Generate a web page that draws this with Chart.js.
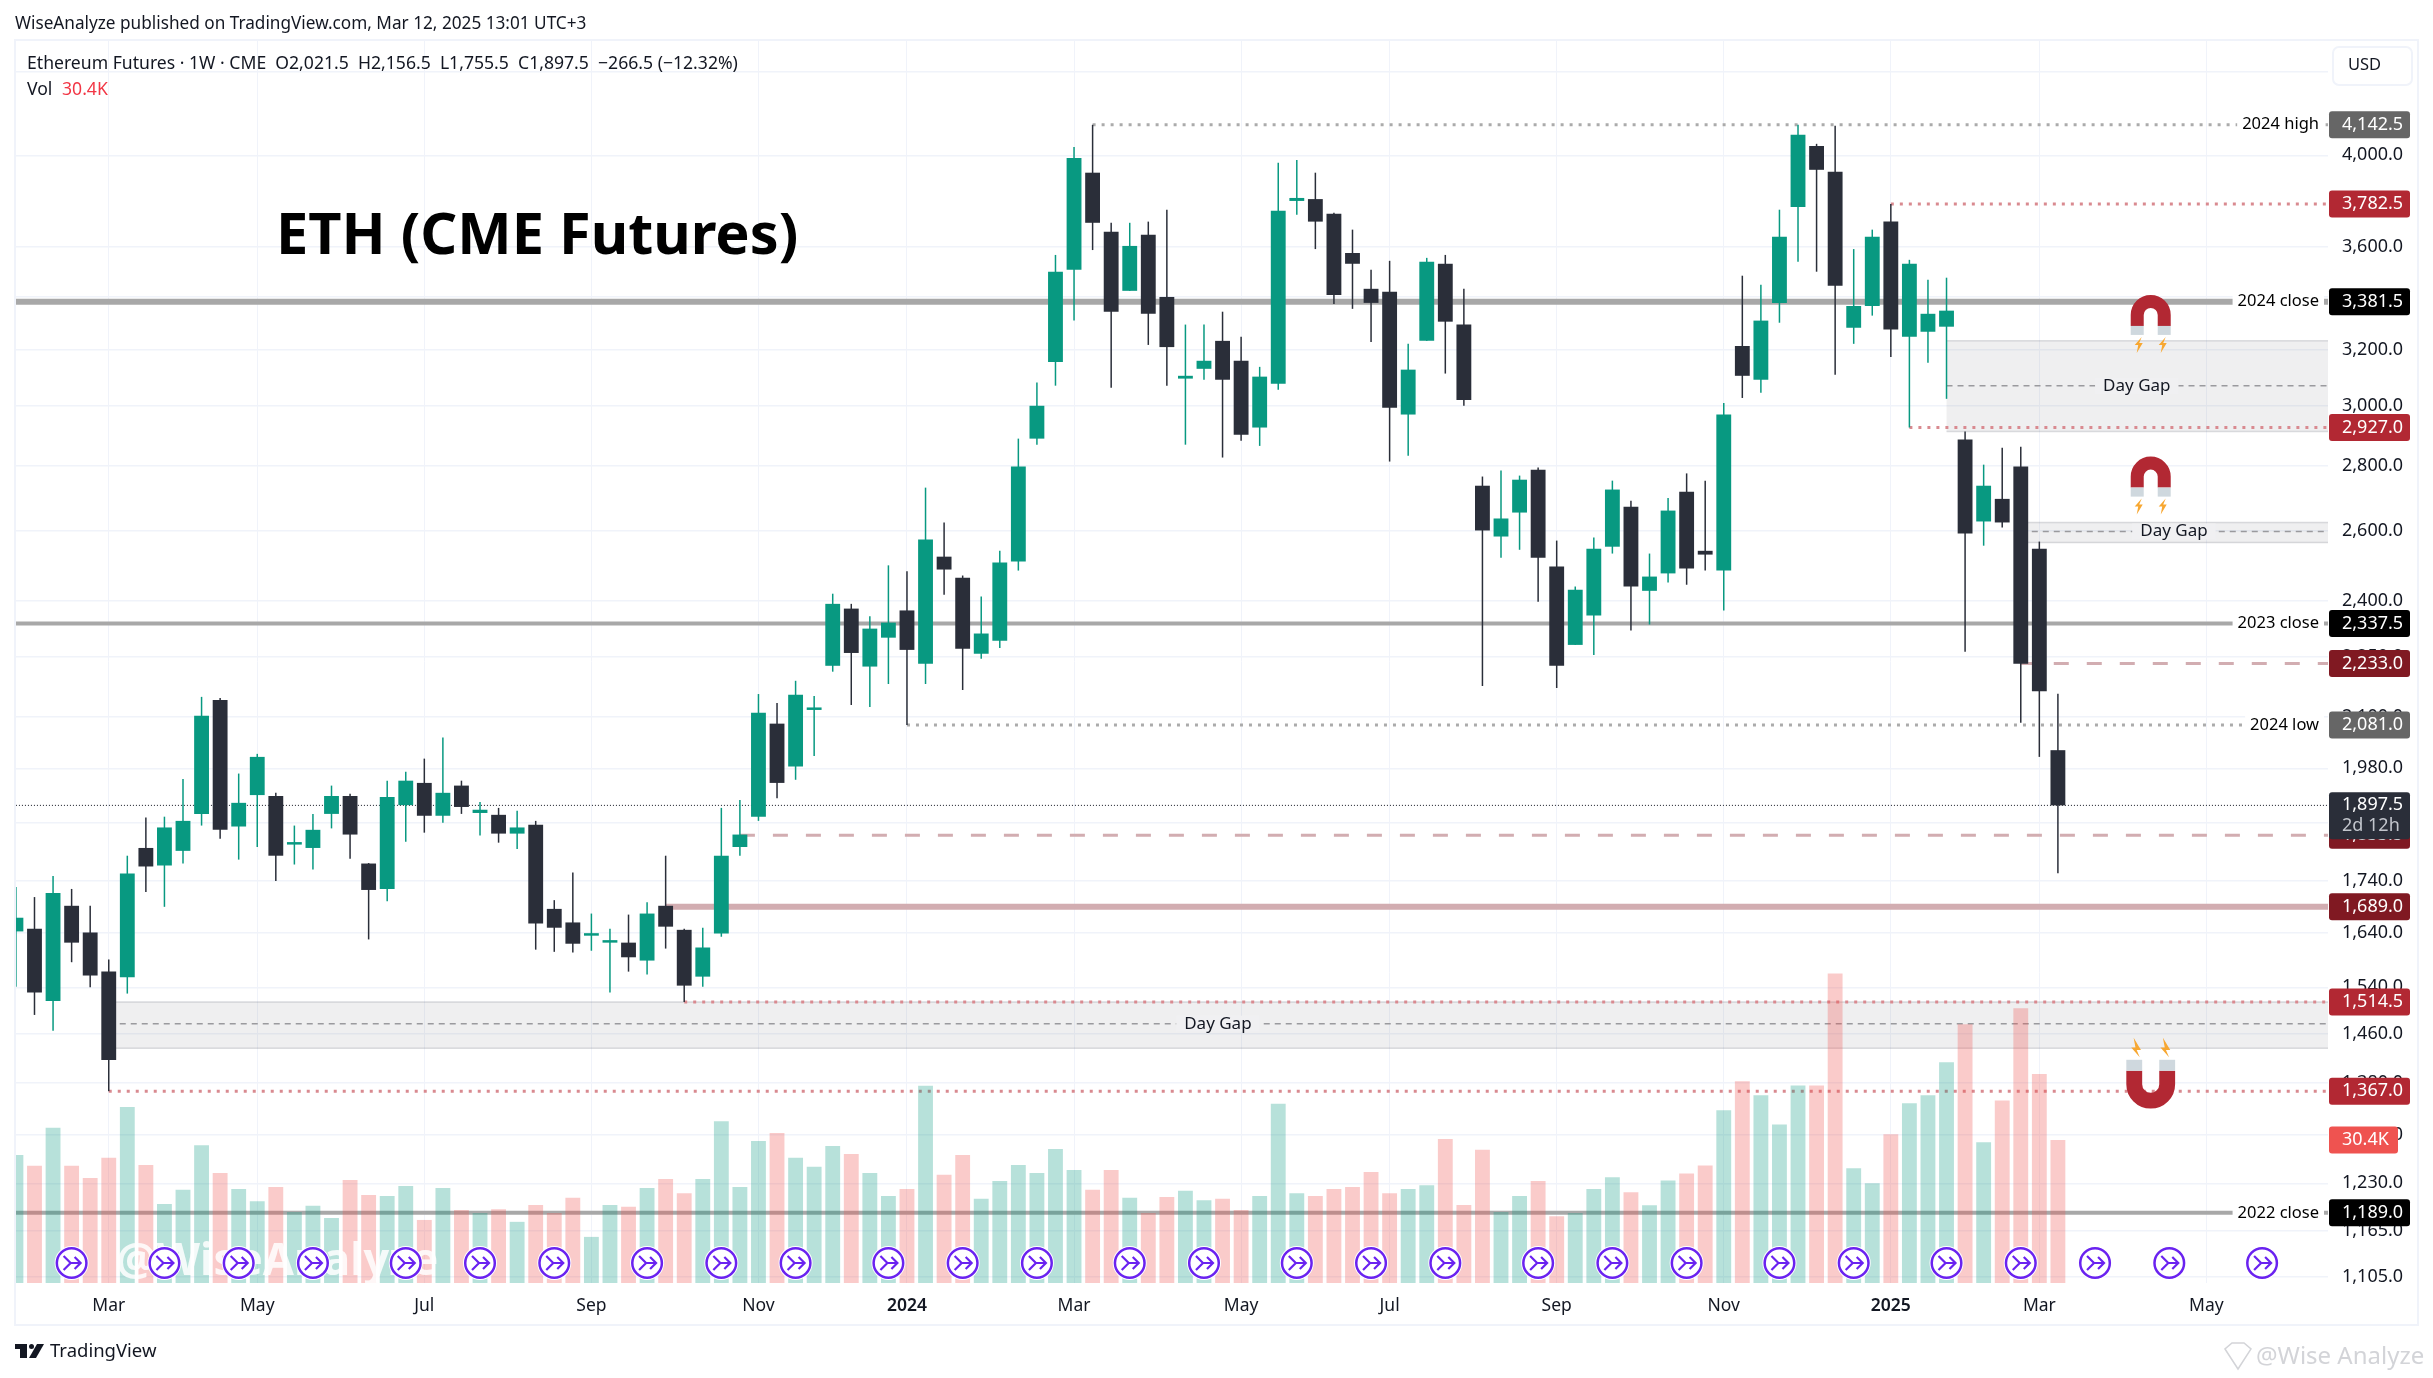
<!DOCTYPE html>
<html>
<head>
<meta charset="utf-8">
<title>ETH (CME Futures)</title>
<script src="https://cdn.jsdelivr.net/npm/chart.js@4"></script>
<style>
  html, body { margin: 0; padding: 0; background: #fff; overflow: hidden; }
  #wrap { position: relative; width: 2433px; height: 1378px; }
  canvas { position: absolute; left: 0; top: 0; }
  .txt { position: absolute; font-family: "Noto Sans", sans-serif; color: #131722; white-space: pre; line-height: 1; }
</style>
</head>
<body>
<div id="wrap">
  <canvas id="ethChart" width="2433" height="1378"></canvas>
  <div class="txt" style="left:15px;top:14px;font-size:17.2px">WiseAnalyze published on TradingView.com, Mar 12, 2025 13:01 UTC+3</div>
  <div class="txt" style="left:50px;top:1341px;font-size:18.5px">TradingView</div>
  <div class="txt" style="left:2256px;top:1343px;font-size:24px;color:#d3d4d8">@Wise Analyze</div>
</div>
<script>
// weekly candles, Jan 30 2023 -> Mar 10 2025
const opens = [1642,1647,1516,1691,1640,1568,1558,1807,1771,1801,1879,2141,1852,1920,1918,1814,1807,1879,1918,1775,1724,1898,1947,1875,1941,1881,1877,1837,1856,1685,1659,1634,1621,1621,1588,1691,1645,1559,1638,1809,1873,2084,1984,2117,2227,2378,2225,2300,2373,2232,2524,2464,2258,2292,2510,2890,3156,3508,3921,3664,3424,3652,3400,3096,3131,3233,3160,2927,3078,3796,3804,3741,3576,3432,3420,2971,3233,3532,3294,2738,2583,2655,2789,2496,2281,2359,2553,2673,2427,2476,2719,2541,2484,3214,3092,3377,3770,4043,3925,3282,3365,3707,3248,3267,3286,2887,2628,2697,2799,2547,2021.5];
const highs = [1728,1708,1750,1724,1691,1590,1791,1871,1873,1956,2149,2146,1968,2013,1925,1854,1879,1941,1923,1776,1952,1972,2002,2051,1952,1905,1892,1886,1864,1702,1757,1676,1647,1674,1698,1791,1647,1649,1892,1909,2156,2134,2189,2151,2419,2391,2357,2499,2482,2732,2625,2470,2411,2541,2890,3082,3568,4038,4142.5,3702,3702,3707,3758,3294,3294,3343,3248,3138,3966,3979,3921,3745,3673,3508,3544,3222,3556,3568,3432,2767,2786,2770,2796,2571,2439,2580,2754,2691,2533,2700,2777,2754,3011,3484,3448,3758,4142.5,4053,4138,3592,3673,3782.5,3548,3468,3476,2914,2805,2860,2863,2568,2156.5];
const lows = [1541,1492,1465,1585,1540,1367,1529,1718,1689,1775,1854,1826,1783,1809,1740,1773,1763,1848,1785,1627,1700,1820,1839,1860,1879,1833,1818,1805,1608,1604,1603,1606,1531,1568,1563,1610,1514.5,1541,1632,1791,1864,1913,1954,2008,2212,2129,2124,2181,2081,2181,2416,2166,2245,2273,2484,2870,3071,3309,3588,3064,3424,3218,3071,2870,3092,2828,2883,2866,3057,3736,3592,3373,3354,3229,2815,2834,3233,3114,3001,2176,2521,2544,2397,2171,2281,2255,2533,2319,2335,2450,2444,2484,2373,3028,3046,3301,3540,3500,3110,3222,3328,3174,2927,3153,3025,2263,2556,2610,2086,2006,1755.5];
const closes = [1668,1531,1716,1621,1561,1417,1755,1769,1850,1864,2103,1845,1903,2006,1791,1816,1845,1918,1835,1722,1916,1952,1875,1925,1894,1888,1837,1850,1657,1649,1619,1636,1623,1594,1676,1651,1543,1612,1791,1835,2110,1947,2154,2120,2391,2260,2324,2340,2268,2574,2487,2271,2311,2507,2799,3001,3500,3988,3702,3343,3605,3335,3210,3106,3160,3092,2903,3103,3753,3809,3707,3408,3532,3377,2994,3128,3540,3305,3021,2601,2637,2757,2521,2227,2430,2547,2726,2439,2467,2661,2490,2530,2971,3106,3309,3643,4095,3934,3444,3365,3643,3275,3532,3335,3347,2592,2738,2625,2232,2163,1897.5];
const volumes = [27.2,24.9,33.0,24.9,22.3,26.6,37.4,25.1,16.8,19.8,29.3,23.4,20.0,17.4,20.4,15.1,16.4,13.8,21.9,18.7,18.5,20.6,13.4,20.2,15.5,14.9,15.7,13.0,16.6,14.9,18.1,9.8,16.6,16.2,20.2,22.1,19.1,22.1,34.4,20.4,30.2,31.9,26.6,24.7,29.1,27.4,23.4,18.5,20.0,41.9,23.0,27.2,17.9,21.7,25.1,23.4,28.5,24.0,19.8,24.0,18.1,14.9,18.3,19.6,17.6,17.9,15.5,18.5,38.1,19.1,18.5,20.0,20.4,23.6,19.1,20.0,20.8,30.6,16.6,28.3,15.1,18.5,21.7,14.2,14.9,20.0,22.5,19.3,16.5,21.8,23.3,25.0,36.7,42.9,39.9,33.7,42.0,42.0,65.8,24.4,21.2,31.6,38.2,39.9,46.9,55.0,29.9,38.8,58.4,44.4,30.4];

const monthTicks = [5,13,22,31,40,48,57,66,74,83,92,101,109,118];
const monthLabels = ['Mar','May','Jul','Sep','Nov','2024','Mar','May','Jul','Sep','Nov','2025','Mar','May'];
const priceTicks = [4400,4000,3600,3400,3200,3000,2800,2600,2400,2250,2100,1980,1860,1740,1640,1540,1460,1380,1300,1230,1165,1105];

// drawn levels: value, first week, note, kind
const levelValues = [4142.5,3782.5,3381.5,2927,2337.5,2233,2081,1897.5,1833.5,1689,1514.5,1367,1189];
const levelStart = [58,101,0,102,0,108,48,0,39,35,36,5,0];
const levelNotes = ['2024 high','','2024 close','','2023 close','','2024 low','','','','','','2022 close'];
const levelKinds = ['hl','red','close','red','close2','rose','hl','last','rose','roseBold','red','red','close2'];

// day gaps: top, bottom, middle, first week
const gapTops = [3233,2625,1514.5];
const gapBottoms = [2914,2565,1436];
const gapMids = [3071,2598,1477];
const gapStart = [104,108,5];
const gapNoteWeek = [114.25,116.25,64.75];

const eventWeeks = [3,8,12,16,21,25,29,34,38,42,47,51,55,60,64,69,73,77,82,86,90,95,99,104,108,112,116,121];
const magnetWeek = [115,115,115];
const magnetPrice = [3408,2831,1340];
const magnetDir = [1,1,-1];

const GREEN = '#089981', DARK = '#2a2e39';
const FONT = '"Noto Sans", sans-serif';
const X_MIN = -0.05, X_MAX = 124.55;

const kindStyle = {
  hl: { color: '#ababab', width: 3, dash: [3, 6], tag: '#666666' },
  red: { color: '#d98a90', width: 3, dash: [3, 6], tag: '#b22833' },
  close: { color: '#a8a8a8', width: 6, dash: [], tag: '#000000' },
  close2: { color: '#a8a8a8', width: 4, dash: [], tag: '#000000' },
  rose: { color: '#d2adb1', width: 3, dash: [15, 18], tag: '#801922' },
  roseBold: { color: '#d2adb1', width: 6, dash: [], tag: '#801922' },
  last: { color: '#131722', width: 1, dash: [1, 2], tag: '#2a2e39' }
};

const fmt = v => v.toLocaleString('en-US', { minimumFractionDigits: 1, maximumFractionDigits: 1 });
const weeks = opens.map((_, i) => i);

const levelSets = levelValues.map((v, i) => {
  const st = kindStyle[levelKinds[i]];
  return {
    type: 'line', order: 9,
    data: [{ x: levelStart[i], y: v }, { x: X_MAX, y: v }],
    borderColor: st.color, borderWidth: st.width, borderDash: st.dash,
    borderCapStyle: 'butt', pointRadius: 0, xAxisID: 'x', yAxisID: 'y'
  };
});

function roundedTag(ctx, x, y, w, h, color) {
  ctx.fillStyle = color;
  ctx.beginPath();
  ctx.roundRect(x, y, w, h, 3);
  ctx.fill();
}

function drawMagnet(ctx, cx, yEdge, dir) {
  ctx.save();
  ctx.translate(cx, yEdge);
  const k = dir < 0 ? 1.22 : 1;
  ctx.scale(k, dir * k);
  ctx.strokeStyle = '#b22833';
  ctx.lineWidth = 13;
  ctx.beginPath();
  ctx.moveTo(-13.5, 31);
  ctx.lineTo(-13.5, 20);
  ctx.arc(0, 20, 13.5, Math.PI, 0);
  ctx.lineTo(13.5, 31);
  ctx.stroke();
  ctx.fillStyle = '#cfd8de';
  ctx.fillRect(-20, 31, 13, 9);
  ctx.fillRect(7, 31, 13, 9);
  ctx.fillStyle = '#f7a731';
  [-12, 12].forEach(b => {
    ctx.beginPath();
    ctx.moveTo(b + 3, 42);
    ctx.lineTo(b - 4, 50);
    ctx.lineTo(b - 0.5, 50);
    ctx.lineTo(b - 2, 58);
    ctx.lineTo(b + 4, 48);
    ctx.lineTo(b + 0.5, 48);
    ctx.closePath();
    ctx.fill();
  });
  ctx.restore();
}

const overlayPlugin = {
  id: 'overlay',
  beforeDatasetsDraw(chart) {
    const { ctx, chartArea: a, scales: { x, y } } = chart;
    ctx.save();
    gapTops.forEach((top, i) => {
      const x0 = x.getPixelForValue(gapStart[i]);
      const yT = y.getPixelForValue(top), yB = y.getPixelForValue(gapBottoms[i]), yM = y.getPixelForValue(gapMids[i]);
      ctx.fillStyle = 'rgba(120,123,134,0.12)';
      ctx.fillRect(x0, yT, a.right - x0, yB - yT);
      ctx.strokeStyle = 'rgba(120,123,134,0.25)';
      ctx.lineWidth = 1.5;
      ctx.beginPath();
      ctx.moveTo(x0, yT); ctx.lineTo(a.right, yT);
      ctx.moveTo(x0, yB); ctx.lineTo(a.right, yB);
      ctx.stroke();
      ctx.strokeStyle = '#9a9a9e';
      ctx.setLineDash([6, 5]);
      ctx.beginPath();
      ctx.moveTo(x0, yM); ctx.lineTo(a.right, yM);
      ctx.stroke();
      ctx.setLineDash([]);
    });
    ctx.restore();
  },
  afterDatasetsDraw(chart) {
    const { ctx, chartArea: a, scales: { x, y, vol } } = chart;
    ctx.save();
    ctx.textBaseline = 'middle';

    // panel border
    ctx.strokeStyle = '#f0f3fa';
    ctx.lineWidth = 2;
    ctx.strokeRect(15, 40, 2403, 1285);

    // title + legend
    ctx.fillStyle = '#000';
    ctx.font = '700 57.7px ' + FONT;
    ctx.fillText('ETH (CME Futures)', 276, 238);
    ctx.fillStyle = '#131722';
    ctx.font = '17.6px ' + FONT;
    ctx.fillText('Ethereum Futures · 1W · CME  O2,021.5  H2,156.5  L1,755.5  C1,897.5  −266.5 (−12.32%)', 27, 64);
    ctx.fillText('Vol', 27, 90);
    ctx.fillStyle = '#f23645';
    ctx.fillText('30.4K', 62, 90);

    // USD button
    ctx.fillStyle = '#fff';
    ctx.strokeStyle = '#f0f3fa';
    ctx.lineWidth = 2;
    ctx.beginPath();
    ctx.roundRect(2333, 47, 79, 38, 6);
    ctx.fill();
    ctx.stroke();
    ctx.fillStyle = '#131722';
    ctx.font = '16.5px ' + FONT;
    ctx.fillText('USD', 2348, 65);

    // day gap notes
    ctx.font = '17px ' + FONT;
    gapTops.forEach((_, i) => {
      const cx = x.getPixelForValue(gapNoteWeek[i]), cy = y.getPixelForValue(gapMids[i]);
      const w = ctx.measureText('Day Gap').width;
      ctx.fillStyle = '#f0f0f2';
      ctx.fillRect(cx - w / 2 - 8, cy - 8, w + 16, 16);
      ctx.fillStyle = '#131722';
      ctx.textAlign = 'center';
      ctx.fillText('Day Gap', cx, cy);
      ctx.textAlign = 'left';
    });

    // white handle on top of the volume bars
    ctx.fillStyle = 'rgba(255,255,255,0.85)';
    ctx.font = '700 45px ' + FONT;
    ctx.fillText('@WiseAnalyze', 116, 1262);

    // event arrows
    ctx.strokeStyle = '#6a22f0';
    eventWeeks.forEach(w => {
      const cx = x.getPixelForValue(w), cy = vol.getPixelForValue(4.25);
      ctx.fillStyle = '#fff';
      ctx.beginPath();
      ctx.arc(cx, cy, 17, 0, Math.PI * 2);
      ctx.fill();
      ctx.lineWidth = 2.5;
      ctx.beginPath();
      ctx.arc(cx, cy, 14.8, 0, Math.PI * 2);
      ctx.stroke();
      ctx.lineWidth = 2.2;
      ctx.beginPath();
      ctx.moveTo(cx - 8, cy - 7); ctx.lineTo(cx - 1, cy); ctx.lineTo(cx - 8, cy + 7);
      ctx.moveTo(cx - 1, cy); ctx.lineTo(cx + 9, cy);
      ctx.moveTo(cx + 3, cy - 6); ctx.lineTo(cx + 9, cy); ctx.lineTo(cx + 3, cy + 6);
      ctx.stroke();
    });

    magnetWeek.forEach((w, i) => {
      drawMagnet(ctx, x.getPixelForValue(w), y.getPixelForValue(magnetPrice[i]), magnetDir[i]);
    });

    // price tags on the axis
    const tagX = a.right + 1, tagW = 81, tagH = 27;
    levelValues.forEach((v, i) => {
      const py = y.getPixelForValue(v), st = kindStyle[levelKinds[i]];
      if (levelNotes[i]) {
        ctx.font = '16.5px ' + FONT;
        const w = ctx.measureText(levelNotes[i]).width;
        ctx.fillStyle = '#fff';
        ctx.fillRect(a.right - w - 14, py - 9, w + 10, 18);
        ctx.fillStyle = '#000';
        ctx.fillText(levelNotes[i], a.right - w - 9, py);
      }
      if (levelKinds[i] === 'last') return;
      roundedTag(ctx, tagX, py - tagH / 2, tagW, tagH, st.tag);
      ctx.fillStyle = '#fff';
      ctx.font = '18px ' + FONT;
      ctx.fillText(fmt(v), a.right + 14, py);
    });

    // current price tag covers the level below it
    const lastY = y.getPixelForValue(closes[closes.length - 1]);
    roundedTag(ctx, tagX, lastY - 13, tagW, 47, DARK);
    ctx.fillStyle = '#fff';
    ctx.font = '18px ' + FONT;
    ctx.fillText(fmt(closes[closes.length - 1]), a.right + 14, lastY);
    ctx.fillStyle = '#c2c5cc';
    ctx.fillText('2d 12h', a.right + 14, lastY + 21);

    // volume tag
    const volY = vol.getPixelForValue(volumes[volumes.length - 1]);
    roundedTag(ctx, tagX, volY - 13.5, 69, 27, '#ef5350');
    ctx.fillStyle = '#fff';
    ctx.fillText(volumes[volumes.length - 1].toFixed(1) + 'K', a.right + 14, volY);

    // TradingView mark in the footer
    ctx.fillStyle = '#131722';
    ctx.fillRect(15, 1344, 12, 5);
    ctx.fillRect(20, 1344, 7, 14);
    ctx.beginPath();
    ctx.arc(31.5, 1346.5, 2.5, 0, Math.PI * 2);
    ctx.fill();
    ctx.beginPath();
    ctx.moveTo(37, 1344); ctx.lineTo(44, 1344); ctx.lineTo(36, 1358); ctx.lineTo(29, 1358);
    ctx.closePath();
    ctx.fill();

    // watermark mark, bottom right
    ctx.strokeStyle = '#d3d4d8';
    ctx.lineWidth = 1.5;
    ctx.beginPath();
    ctx.moveTo(2225, 1349); ctx.lineTo(2238, 1369); ctx.lineTo(2251, 1349); ctx.lineTo(2244, 1343); ctx.lineTo(2232, 1343);
    ctx.closePath();
    ctx.stroke();
    ctx.restore();
  }
};

new Chart(document.getElementById('ethChart'), {
  type: 'bar',
  data: {
    datasets: [
      ...levelSets,
      {
        label: 'Vol', order: 5, yAxisID: 'vol', xAxisID: 'x',
        data: weeks.map(i => ({ x: i, y: volumes[i] })),
        backgroundColor: weeks.map(i => closes[i] >= opens[i] ? 'rgba(8,153,129,0.29)' : 'rgba(239,83,80,0.3)'),
        barPercentage: 1, maxBarThickness: 17.6, grouped: false
      },
      {
        label: 'Wick', order: 3, yAxisID: 'y', xAxisID: 'x',
        data: weeks.map(i => ({ x: i, y: [lows[i], highs[i]] })),
        backgroundColor: weeks.map(i => closes[i] >= opens[i] ? GREEN : DARK),
        barPercentage: 1, maxBarThickness: 1.5, grouped: false
      },
      {
        label: 'Body', order: 2, yAxisID: 'y', xAxisID: 'x',
        data: weeks.map(i => ({ x: i, y: [opens[i], closes[i]] })),
        backgroundColor: weeks.map(i => closes[i] >= opens[i] ? GREEN : DARK),
        barPercentage: 1, maxBarThickness: 15, minBarLength: 2.5, grouped: false
      }
    ]
  },
  plugins: [overlayPlugin],
  options: {
    responsive: false,
    devicePixelRatio: 1,
    animation: false,
    layout: { padding: { left: 15, top: 40, right: 15, bottom: 53 } },
    plugins: { legend: { display: false }, tooltip: { enabled: false } },
    scales: {
      x: {
        type: 'linear', offset: false, min: X_MIN, max: X_MAX,
        afterBuildTicks: s => { s.ticks = monthTicks.map(v => ({ value: v })); },
        afterFit: s => { s.height = 42; },
        grid: { offset: false, color: '#f0f3fa', lineWidth: 1, drawTicks: false },
        border: { display: false },
        ticks: {
          autoSkip: false, maxRotation: 0, padding: 13, color: '#131722',
          font: c => ({ family: FONT, size: 17.5, weight: c.tick && monthLabels[monthTicks.indexOf(c.tick.value)].length === 4 ? '600' : '400' }),
          callback: v => monthLabels[monthTicks.indexOf(v)]
        }
      },
      y: {
        type: 'logarithmic', position: 'right', min: 1097, max: 4565.7,
        afterBuildTicks: s => { s.ticks = priceTicks.map(v => ({ value: v })); },
        afterFit: s => { s.width = 90; },
        grid: { color: '#f0f3fa', lineWidth: 1.5, drawTicks: false },
        border: { display: false },
        ticks: { autoSkip: false, padding: 14, color: '#131722', font: { family: FONT, size: 18 }, callback: v => fmt(v) }
      },
      vol: { type: 'linear', display: false, position: 'left', min: 0, max: 264.2 }
    }
  }
});
</script>
</body>
</html>
